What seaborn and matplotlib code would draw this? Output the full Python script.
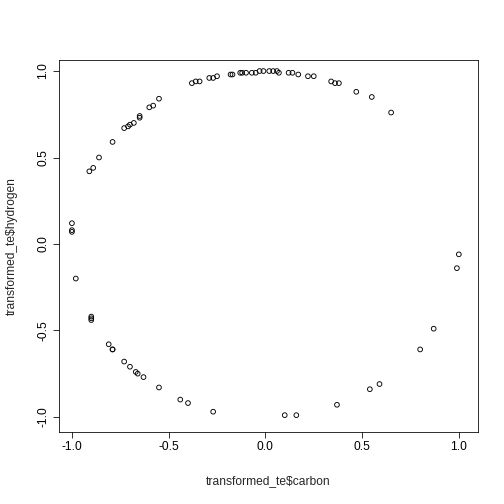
import matplotlib
matplotlib.use("Agg")
import matplotlib.pyplot as plt
import seaborn as sns

carbon = [-0.55, -0.58, -0.60, -0.65, -0.65, -0.68, -0.70, -0.71, -0.73, -0.79, -0.86, -0.89, -0.91,
          -0.38, -0.36, -0.34, -0.29, -0.27, -0.25, -0.18, -0.17, -0.13, -0.12, -0.10, -0.07, -0.05,
          -0.03, -0.01, 0.02, 0.04, 0.06, 0.07, 0.12, 0.14, 0.17, 0.22, 0.25, 0.34, 0.36, 0.38, 0.47,
          0.55, 0.65,
          -1.0, -1.0, -1.0, -0.98, -0.90, -0.90, -0.90,
          -0.81, -0.79, -0.79, -0.73, -0.70, -0.67, -0.66, -0.63, -0.55, -0.44, -0.40, -0.27,
          0.10, 0.16, 0.37, 0.54, 0.59, 0.80, 0.87, 0.99, 1.0]
hydrogen = [0.84, 0.80, 0.79, 0.73, 0.74, 0.70, 0.69, 0.68, 0.67, 0.59, 0.50, 0.44, 0.42,
            0.93, 0.94, 0.94, 0.96, 0.96, 0.97, 0.98, 0.98, 0.99, 0.99, 0.99, 0.99, 0.99,
            1.0, 1.0, 1.0, 1.0, 1.0, 0.99, 0.99, 0.99, 0.98, 0.97, 0.97, 0.94, 0.93, 0.93, 0.88,
            0.85, 0.76,
            0.12, 0.08, 0.07, -0.20, -0.42, -0.43, -0.44,
            -0.58, -0.61, -0.61, -0.68, -0.71, -0.74, -0.75, -0.77, -0.83, -0.90, -0.92, -0.97,
            -0.99, -0.99, -0.93, -0.84, -0.81, -0.61, -0.49, -0.14, -0.06]

sns.set_style("ticks")
plt.rcParams["font.family"] = ["Liberation Sans", "DejaVu Sans"]

fig = plt.figure(figsize=(7, 7), dpi=72)
ax = fig.add_axes([0.117, 0.143, 0.831, 0.738])
sns.scatterplot(x=carbon, y=hydrogen, ax=ax, marker="o", s=22,
                facecolors="none", edgecolor="black", linewidth=0.9)
ax.set_xlim(-1.067, 1.098)
ax.set_ylim(-1.087, 1.064)
ax.set_xticks([-1.0, -0.5, 0.0, 0.5, 1.0])
ax.set_yticks([-1.0, -0.5, 0.0, 0.5, 1.0])
ax.set_xticklabels(["-1.0", "-0.5", "0.0", "0.5", "1.0"], fontsize=12)
ax.set_yticklabels(["-1.0", "-0.5", "0.0", "0.5", "1.0"], fontsize=12, rotation=90, va="center")
ax.set_xlabel("transformed_te$carbon", fontsize=12, labelpad=22)
ax.set_ylabel("transformed_te$hydrogen", fontsize=12, labelpad=20)
for s in ax.spines.values():
    s.set_visible(True)
    s.set_color("black")
ax.tick_params(colors="black", length=6)
fig.savefig("out.png", dpi=72)
